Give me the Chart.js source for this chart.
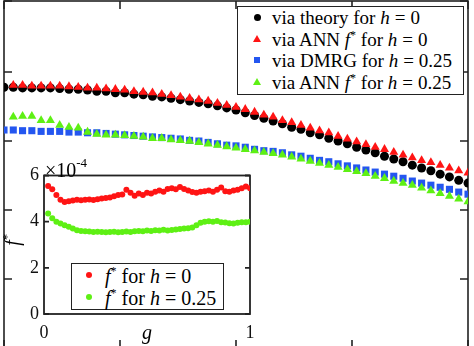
<!DOCTYPE html>
<html>
<head>
<meta charset="utf-8">
<script src="https://cdn.jsdelivr.net/npm/chart.js@4.4.0/dist/chart.umd.min.js"></script>
<style>
html, body { margin: 0; padding: 0; background: #fff; overflow: hidden; }
body { width: 474px; height: 346px; position: relative; color: #000; }
#main { position: absolute; left: 0; top: 0; }
#inset { position: absolute; left: 0; top: 150px; }
.box { position: absolute; background: #fff; border: 1.5px solid #222; box-sizing: border-box; }
.row { position: absolute; white-space: nowrap; line-height: 1; font-family: 'Liberation Serif'; }
.mk { position: absolute; }
.dot { border-radius: 50%; }
.tri { width: 0; height: 0; border-left: 4px solid transparent; border-right: 4px solid transparent; }
.lbl { position: absolute; white-space: nowrap; line-height: 1; font-family: 'Liberation Serif'; }
.eq { padding: 0 5px; }
</style>
</head>
<body>
<canvas id="main" width="474" height="352"></canvas>
<canvas id="inset" width="270" height="200"></canvas>

<div class="box" style="left:237px;top:6px;width:227px;height:89px;">
  <span class="mk dot" style="left:16px;top:7px;width:7px;height:7px;background:#000;"></span>
  <span class="row" style="left:34px;top:1px;font-size:19px;">via theory for <i>h</i><span class="eq">=</span>0</span>
  <span class="mk tri" style="left:15px;top:28px;border-bottom:7px solid #ff1414;"></span>
  <span class="row" style="left:34px;top:22px;font-size:19px;">via ANN <i>f</i><sup style="font-size:12px">*</sup> for <i>h</i><span class="eq">=</span>0</span>
  <span class="mk" style="left:16px;top:50px;width:6px;height:6px;background:#2456f0;"></span>
  <span class="row" style="left:34px;top:44px;font-size:19px;">via DMRG for <i>h</i><span class="eq">=</span>0.25</span>
  <span class="mk tri" style="left:15px;top:71px;border-bottom:7px solid #5ef014;"></span>
  <span class="row" style="left:34px;top:65px;font-size:19px;">via ANN <i>f</i><sup style="font-size:12px">*</sup> for <i>h</i><span class="eq">=</span>0.25</span>
</div>

<div class="box" style="left:71px;top:263px;width:153px;height:47px;">
  <span class="mk dot" style="left:14px;top:8px;width:6px;height:6px;background:#ff1414;"></span>
  <span class="row" style="left:33px;top:1px;font-size:20px;"><i>f</i><sup style="font-size:12px">*</sup> for <i>h</i><span class="eq">=</span>0</span>
  <span class="mk dot" style="left:14px;top:30px;width:6px;height:6px;background:#5ef014;"></span>
  <span class="row" style="left:33px;top:23px;font-size:20px;"><i>f</i><sup style="font-size:12px">*</sup> for <i>h</i><span class="eq">=</span>0.25</span>
</div>

<span class="lbl" style="left:45px;top:158px;font-size:20px;">&times;10<sup style="font-size:13px;position:relative;top:-2px;">-4</sup></span>
<span class="lbl" style="left:5px;top:229px;font-size:20px;transform:rotate(-90deg);transform-origin:center;"><i>f</i><sup style="font-size:13px">*</sup></span>
<span class="lbl" style="left:142px;top:322px;font-size:20px;"><i>g</i></span>

<script>
// main panel: g grid and the four curves
const gMain = [0,0.02,0.04,0.06,0.08,0.1,0.12,0.14,0.16,0.18,0.2,0.22,0.24,0.26,0.28,0.3,0.32,0.34,0.36,0.38,0.4,0.42,0.44,0.46,0.48,0.5,0.52,0.54,0.56,0.58,0.6,0.62,0.64,0.66,0.68,0.7,0.72,0.74,0.76,0.78,0.8,0.82,0.84,0.86,0.88,0.9,0.92,0.94,0.96,0.98,1];
const theoryH0 = [3.78,3.78,3.77,3.77,3.77,3.77,3.76,3.75,3.75,3.74,3.72,3.72,3.70,3.70,3.68,3.67,3.65,3.64,3.62,3.60,3.58,3.56,3.54,3.51,3.48,3.45,3.41,3.37,3.33,3.29,3.25,3.20,3.17,3.12,3.09,3.04,3.00,2.96,2.91,2.87,2.83,2.78,2.74,2.70,2.65,2.61,2.57,2.52,2.48,2.43,2.39];
const annH0 = [null,3.81,3.81,3.80,3.80,3.80,3.80,3.79,3.78,3.77,3.77,3.76,3.75,3.74,3.72,3.71,3.70,3.68,3.66,3.64,3.62,3.60,3.58,3.55,3.52,3.49,3.46,3.42,3.38,3.35,3.30,3.27,3.23,3.19,3.15,3.12,3.07,3.03,2.99,2.95,2.91,2.88,2.84,2.80,2.76,2.72,2.69,2.65,2.61,2.57,2.54];
const dmrgH025 = [3.16,3.16,3.15,3.15,3.14,3.14,3.14,3.13,3.13,3.12,3.12,3.11,3.10,3.09,3.08,3.07,3.06,3.05,3.04,3.03,3.01,3.00,2.98,2.96,2.94,2.93,2.91,2.88,2.86,2.85,2.83,2.80,2.78,2.75,2.72,2.70,2.67,2.64,2.61,2.58,2.55,2.52,2.49,2.46,2.42,2.39,2.36,2.33,2.30,2.26,2.23];
const annH025 = [null,3.35,3.36,3.36,3.30,3.30,3.23,3.20,3.19,3.13,3.10,3.09,3.09,3.08,3.07,3.06,3.04,3.04,3.02,3.01,3.00,2.98,2.96,2.94,2.92,2.90,2.88,2.86,2.84,2.82,2.80,2.77,2.74,2.71,2.68,2.65,2.62,2.59,2.56,2.53,2.49,2.46,2.42,2.39,2.36,2.32,2.28,2.24,2.20,2.16,2.12];

// inset: f* (x1e-4) vs g
const gInset = [0.02,0.04,0.06,0.08,0.1,0.12,0.14,0.16,0.18,0.2,0.22,0.24,0.26,0.28,0.3,0.32,0.34,0.36,0.38,0.4,0.42,0.44,0.46,0.48,0.5,0.52,0.54,0.56,0.58,0.6,0.62,0.64,0.66,0.68,0.7,0.72,0.74,0.76,0.78,0.8,0.82,0.84,0.86,0.88,0.9,0.92,0.94,0.96,0.98,1];
const fStarH0 = [5.55,5.40,5.15,4.95,4.85,4.88,4.92,4.95,4.93,4.95,4.96,4.94,4.97,5.00,5.02,5.05,5.10,5.15,5.18,5.38,5.25,5.12,5.22,5.15,5.25,5.22,5.30,5.35,5.30,5.42,5.45,5.40,5.50,5.42,5.35,5.28,5.25,5.30,5.32,5.35,5.30,5.38,5.48,5.32,5.30,5.35,5.38,5.45,5.52,5.45];
const fStarH025 = [4.35,4.15,4.00,3.92,3.85,3.78,3.70,3.63,3.60,3.58,3.57,3.55,3.56,3.55,3.54,3.55,3.56,3.54,3.55,3.57,3.55,3.58,3.60,3.58,3.62,3.60,3.63,3.62,3.65,3.62,3.64,3.66,3.68,3.70,3.72,3.75,3.85,3.95,4.00,4.02,4.00,4.03,3.98,3.96,3.93,3.92,3.95,3.97,3.98,4.00];
const insetYTicks = ['0', '2', '4', '6'];

const RED = '#ff1414', BLACK = '#000000', BLUE = '#2456f0', GREEN = '#5ef014';

Chart.defaults.font.family = 'Liberation Serif';

function pts(xs, ys) {
    return xs.map((x, i) => ({x: x, y: ys[i]})).filter(p => p.y !== null);
}

// box with inward tick marks, MATLAB style
const frame = {
    id: 'frame',
    beforeDatasetsDraw(chart, args, opts) {
        const {ctx, chartArea: a, scales} = chart;
        const x = scales.x, y = scales.y;
        ctx.save();
        ctx.strokeStyle = '#222';
        ctx.lineWidth = opts.width;
        ctx.strokeRect(a.left, a.top, a.width, a.height);
        ctx.beginPath();
        if (opts.xTicks) {
            x.ticks.forEach(t => {
                const px = x.getPixelForValue(t.value);
                ctx.moveTo(px, a.top); ctx.lineTo(px, a.top + opts.len);
                ctx.moveTo(px, a.bottom); ctx.lineTo(px, a.bottom - opts.len);
            });
        }
        y.ticks.forEach(t => {
            const py = y.getPixelForValue(t.value);
            ctx.moveTo(a.left, py); ctx.lineTo(a.left + opts.len, py);
            ctx.moveTo(a.right, py); ctx.lineTo(a.right - opts.len, py);
        });
        ctx.stroke();
        if (opts.labels) {
            ctx.fillStyle = '#111';
            ctx.font = '18px "Liberation Serif"';
            ctx.textAlign = 'right';
            ctx.textBaseline = 'middle';
            y.ticks.forEach(t => {
                ctx.fillText(insetYTicks[t.value / 2], a.left - 5, y.getPixelForValue(t.value));
            });
            ctx.textAlign = 'center';
            ctx.textBaseline = 'top';
            x.ticks.forEach(t => {
                ctx.fillText(String(t.value), x.getPixelForValue(t.value), a.bottom + 10);
            });
        }
        ctx.restore();
    }
};

const quietAxis = {display: false, drawTicks: false};

new Chart(document.getElementById('main'), {
    type: 'scatter',
    data: {
        datasets: [
            {label: 'via ANN f* for h = 0.25', data: pts(gMain, annH025), pointStyle: 'triangle', pointRadius: 5.2, backgroundColor: GREEN, borderColor: GREEN, borderWidth: 0},
            {label: 'via DMRG for h = 0.25', data: pts(gMain, dmrgH025), pointStyle: 'rect', pointRadius: 5, backgroundColor: BLUE, borderColor: BLUE, borderWidth: 0},
            {label: 'via ANN f* for h = 0', data: pts(gMain, annH0), pointStyle: 'triangle', pointRadius: 5.2, backgroundColor: RED, borderColor: RED, borderWidth: 0},
            {label: 'via theory for h = 0', data: pts(gMain, theoryH0), pointStyle: 'circle', pointRadius: 4.5, backgroundColor: BLACK, borderColor: BLACK, borderWidth: 0}
        ]
    },
    options: {
        responsive: false,
        animation: false,
        events: [],
        layout: {autoPadding: false, padding: {left: 4, right: 6, top: 1, bottom: 4}},
        plugins: {
            legend: {display: false},
            tooltip: {enabled: false},
            frame: {width: 1.6, len: 8, xTicks: true, labels: false}
        },
        scales: {
            x: {type: 'linear', min: 0, max: 1, ticks: {display: false, stepSize: 0.25}, grid: quietAxis, border: {display: false}},
            y: {type: 'linear', min: 0, max: 5.03, ticks: {display: false, stepSize: 1}, grid: quietAxis, border: {display: false}}
        }
    },
    plugins: [frame]
});

new Chart(document.getElementById('inset'), {
    type: 'scatter',
    data: {
        datasets: [
            {label: 'f* for h = 0', data: pts(gInset, fStarH0), pointStyle: 'circle', pointRadius: 3, backgroundColor: RED, borderWidth: 0},
            {label: 'f* for h = 0.25', data: pts(gInset, fStarH025), pointStyle: 'circle', pointRadius: 3, backgroundColor: GREEN, borderWidth: 0}
        ]
    },
    options: {
        responsive: false,
        animation: false,
        events: [],
        layout: {autoPadding: false, padding: {left: 44, right: 20, top: 25.5, bottom: 36}},
        plugins: {
            legend: {display: false},
            tooltip: {enabled: false},
            frame: {width: 1.8, len: 5, xTicks: false, labels: true}
        },
        scales: {
            x: {type: 'linear', min: 0, max: 1, ticks: {display: false, stepSize: 1}, grid: quietAxis, border: {display: false}},
            y: {type: 'linear', min: 0, max: 6, ticks: {display: false, stepSize: 2}, grid: quietAxis, border: {display: false}}
        }
    },
    plugins: [frame]
});
</script>
</body>
</html>
